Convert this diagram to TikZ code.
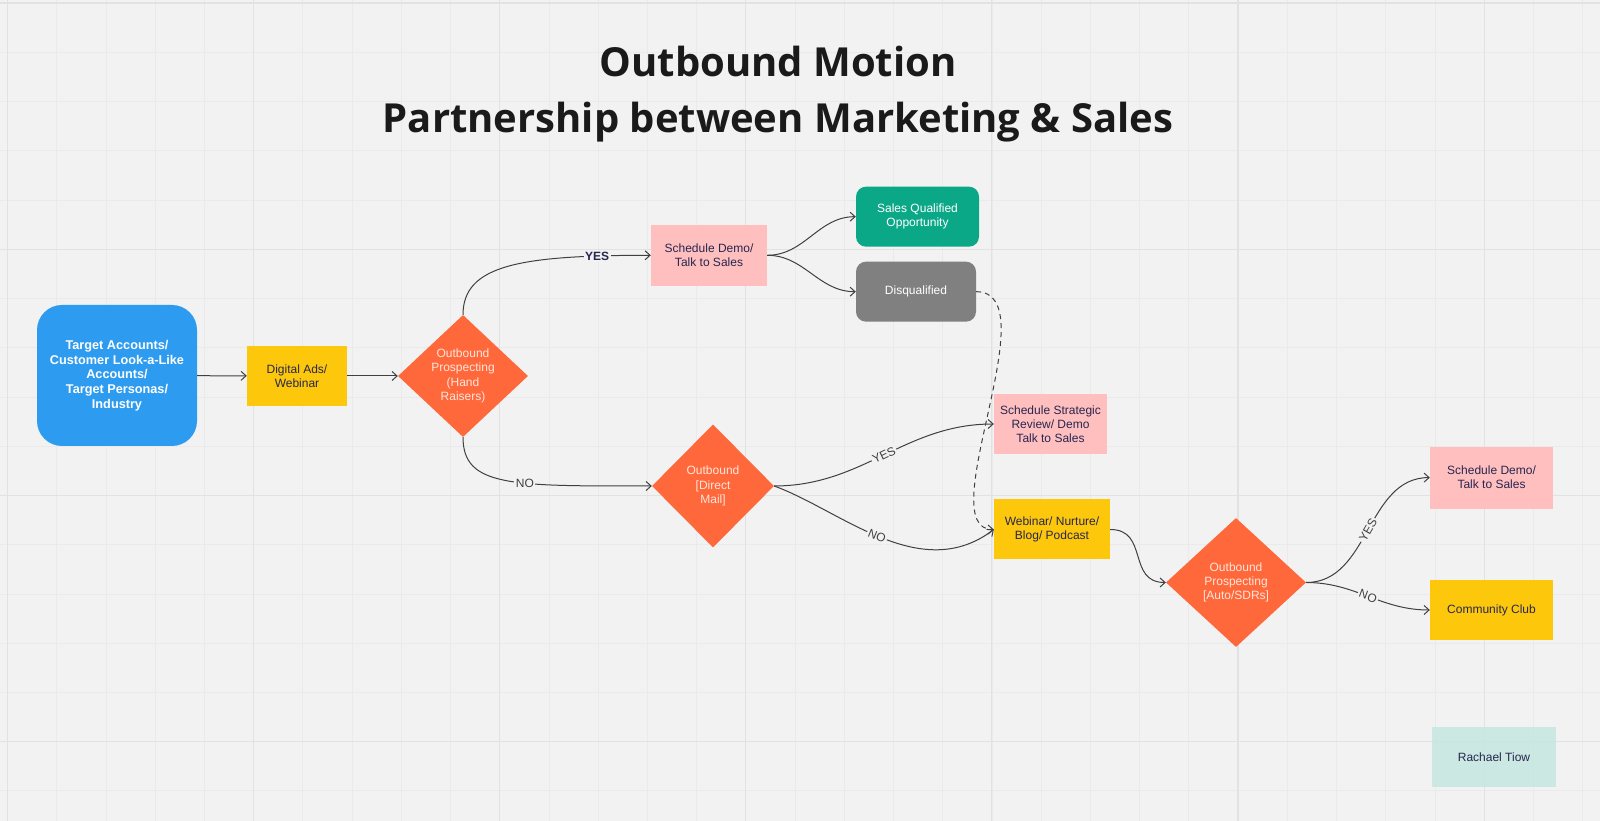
\documentclass[tikz,border=0pt]{standalone}
\usepackage{fontspec}
\setmainfont{Liberation Sans}
\newfontfamily\titlefont{Open Sans}
\usetikzlibrary{shapes.geometric, arrows.meta}

\definecolor{canvas}{HTML}{F2F2F2}
\definecolor{gridminor}{HTML}{EAEAEA}
\definecolor{gridmajor}{HTML}{E2E2E2}
\definecolor{sky}{HTML}{2D9BF0}
\definecolor{sun}{HTML}{FDC70C}
\definecolor{flame}{HTML}{FF683B}
\definecolor{blush}{HTML}{FFBFBF}
\definecolor{jade}{HTML}{0BA888}
\definecolor{slate}{HTML}{808080}
\definecolor{mint}{HTML}{C3E6DE}
\definecolor{ink}{HTML}{26264F}
\definecolor{petal}{HTML}{FFE6DC}
\definecolor{wire}{HTML}{404040}
\definecolor{titleink}{HTML}{1A1A1A}

\begin{document}
\begin{tikzpicture}[x=1pt, y=1pt,
    box/.style={align=center, font=\fontsize{12}{14.2}\selectfont,
        inner sep=2pt, text=ink},
    lead/.style={box, fill=sky, text=white,
        font=\bfseries\fontsize{12.7}{14.7}\selectfont,
        minimum width=160pt, minimum height=141pt, rounded corners=25pt},
    note/.style={box, fill=blush, minimum width=116pt, minimum height=60pt},
    state/.style={box, text=white, minimum height=60pt,
        rounded corners=10pt},
    gate/.style={box, diamond, fill=flame, text=petal, inner sep=0pt},
    arrow/.style={-{Straight Barb[length=5pt, width=9pt]}, line width=1pt,
        draw=wire},
    tag/.style={fill=canvas, text=wire, font=\fontsize{12}{14}\selectfont,
        inner sep=1.5pt},
    minor/.style={draw=gridminor, line width=.7pt},
    major/.style={draw=gridmajor, line width=1.1pt},
]
    \useasboundingbox (0,0) rectangle (1600,821);

    %% the board and its grid
    \fill[canvas] (0,0) rectangle (1600,821);
    \foreach \i in {0,...,32}
        \draw[minor] ({7.5+49.22*\i},0) -- ++(0,821);
    \foreach \j in {0,...,16}
        \draw[minor] (0,{818-49.24*\j}) -- ++(1600,0);
    \foreach \i in {0,...,6}
        \draw[major] ({7.5+246.1*\i},0) -- ++(0,821);
    \foreach \j in {0,...,3}
        \draw[major] (0,{818-246.2*\j}) -- ++(1600,0);

    %% heading
    \node[font=\titlefont\bfseries\fontsize{40}{56}\selectfont,
        text=titleink, align=center] (title) at (778,727)
        {Outbound Motion\\Partnership between Marketing \& Sales};

    %% first row: accounts, ads and the hand raisers
    \node[lead] (target) at (117,445.5)
        {Target Accounts/\\Customer Look-a-Like\\Accounts/\\Target Personas/\\Industry};
    \node[note, fill=sun, minimum width=100pt] (digital) at (297,445)
        {Digital Ads/\\Webinar};
    \node[gate, minimum width=130pt, minimum height=122pt] (hand)
        at (463,445) {Outbound\\Prospecting\\(Hand\\Raisers)};
    \draw[arrow] (target) -- (digital);
    \draw[arrow] (digital) -- (hand);

    %% hand raisers say yes
    \node[note, minimum height=61pt] (demo) at (709,565.7)
        {Schedule Demo/\\Talk to Sales};
    \node[state, fill=jade, minimum width=123pt] (sqo) at (917.5,604.3)
        {Sales Qualified\\Opportunity};
    \node[state, fill=slate, minimum width=120pt] (disq) at (916,529.3)
        {Disqualified};
    \draw[arrow] (hand.north) to[out=90, in=180, out distance=50pt,
        in distance=130pt] node[pos=.85, tag, text=ink, font=\bfseries
        \fontsize{12}{14}\selectfont] {YES} (demo.west);
    \draw[arrow] (demo.east) to[out=0, in=180] (sqo.west);
    \draw[arrow] (demo.east) to[out=0, in=180] (disq.west);

    %% hand raisers say no: direct mail
    \node[gate, minimum width=122pt, minimum height=123pt] (mail)
        at (713,335) {Outbound\\{[}Direct\\Mail{]}};
    \node[note, minimum width=113pt] (review)
        at (1050.5,397) {Schedule Strategic\\Review/ Demo\\Talk to Sales};
    \node[note, fill=sun] (nurture) at (1052,291.5)
        {Webinar/ Nurture/\\Blog/ Podcast};
    \draw[arrow] (hand.south) to[out=-90, in=180, out distance=50pt,
        in distance=140pt] node[pos=.6, tag] {NO} (mail.west);
    \draw[arrow] (mail.east) to[out=0, in=180]
        node[tag, sloped] {YES} (review.west);
    \draw[arrow] (mail.east) to[out=-20, in=-143, out distance=71pt,
        in distance=92pt] node[pos=.48, tag, sloped] {NO} (nurture.west);
    \draw[arrow, dash pattern=on 5pt off 4pt] (disq.east)
        .. controls +(74,0) and +(-64,0) .. (nurture.west);

    %% nurture, then the SDRs
    \node[gate, minimum width=140pt, minimum height=129pt] (sdr)
        at (1236,238.5) {Outbound\\Prospecting\\{[}Auto/SDRs{]}};
    \node[note, minimum width=123pt, minimum height=62pt] (demo2)
        at (1491.5,343.4) {Schedule Demo/\\Talk to Sales};
    \node[note, fill=sun, minimum width=123pt] (club)
        at (1491.5,211) {Community Club};
    \draw[arrow] (nurture.east) to[out=0, in=180, looseness=1.3] (sdr.west);
    \draw[arrow] (sdr.east) to[out=0, in=180]
        node[tag, sloped] {YES} (demo2.west);
    \draw[arrow] (sdr.east) to[out=0, in=180]
        node[tag, sloped] {NO} (club.west);

    %% signature
    \node[note, fill=mint, fill opacity=.8, text opacity=1,
        minimum width=124pt] (tiow) at (1494,64) {Rachael Tiow};
\end{tikzpicture}
\end{document}
